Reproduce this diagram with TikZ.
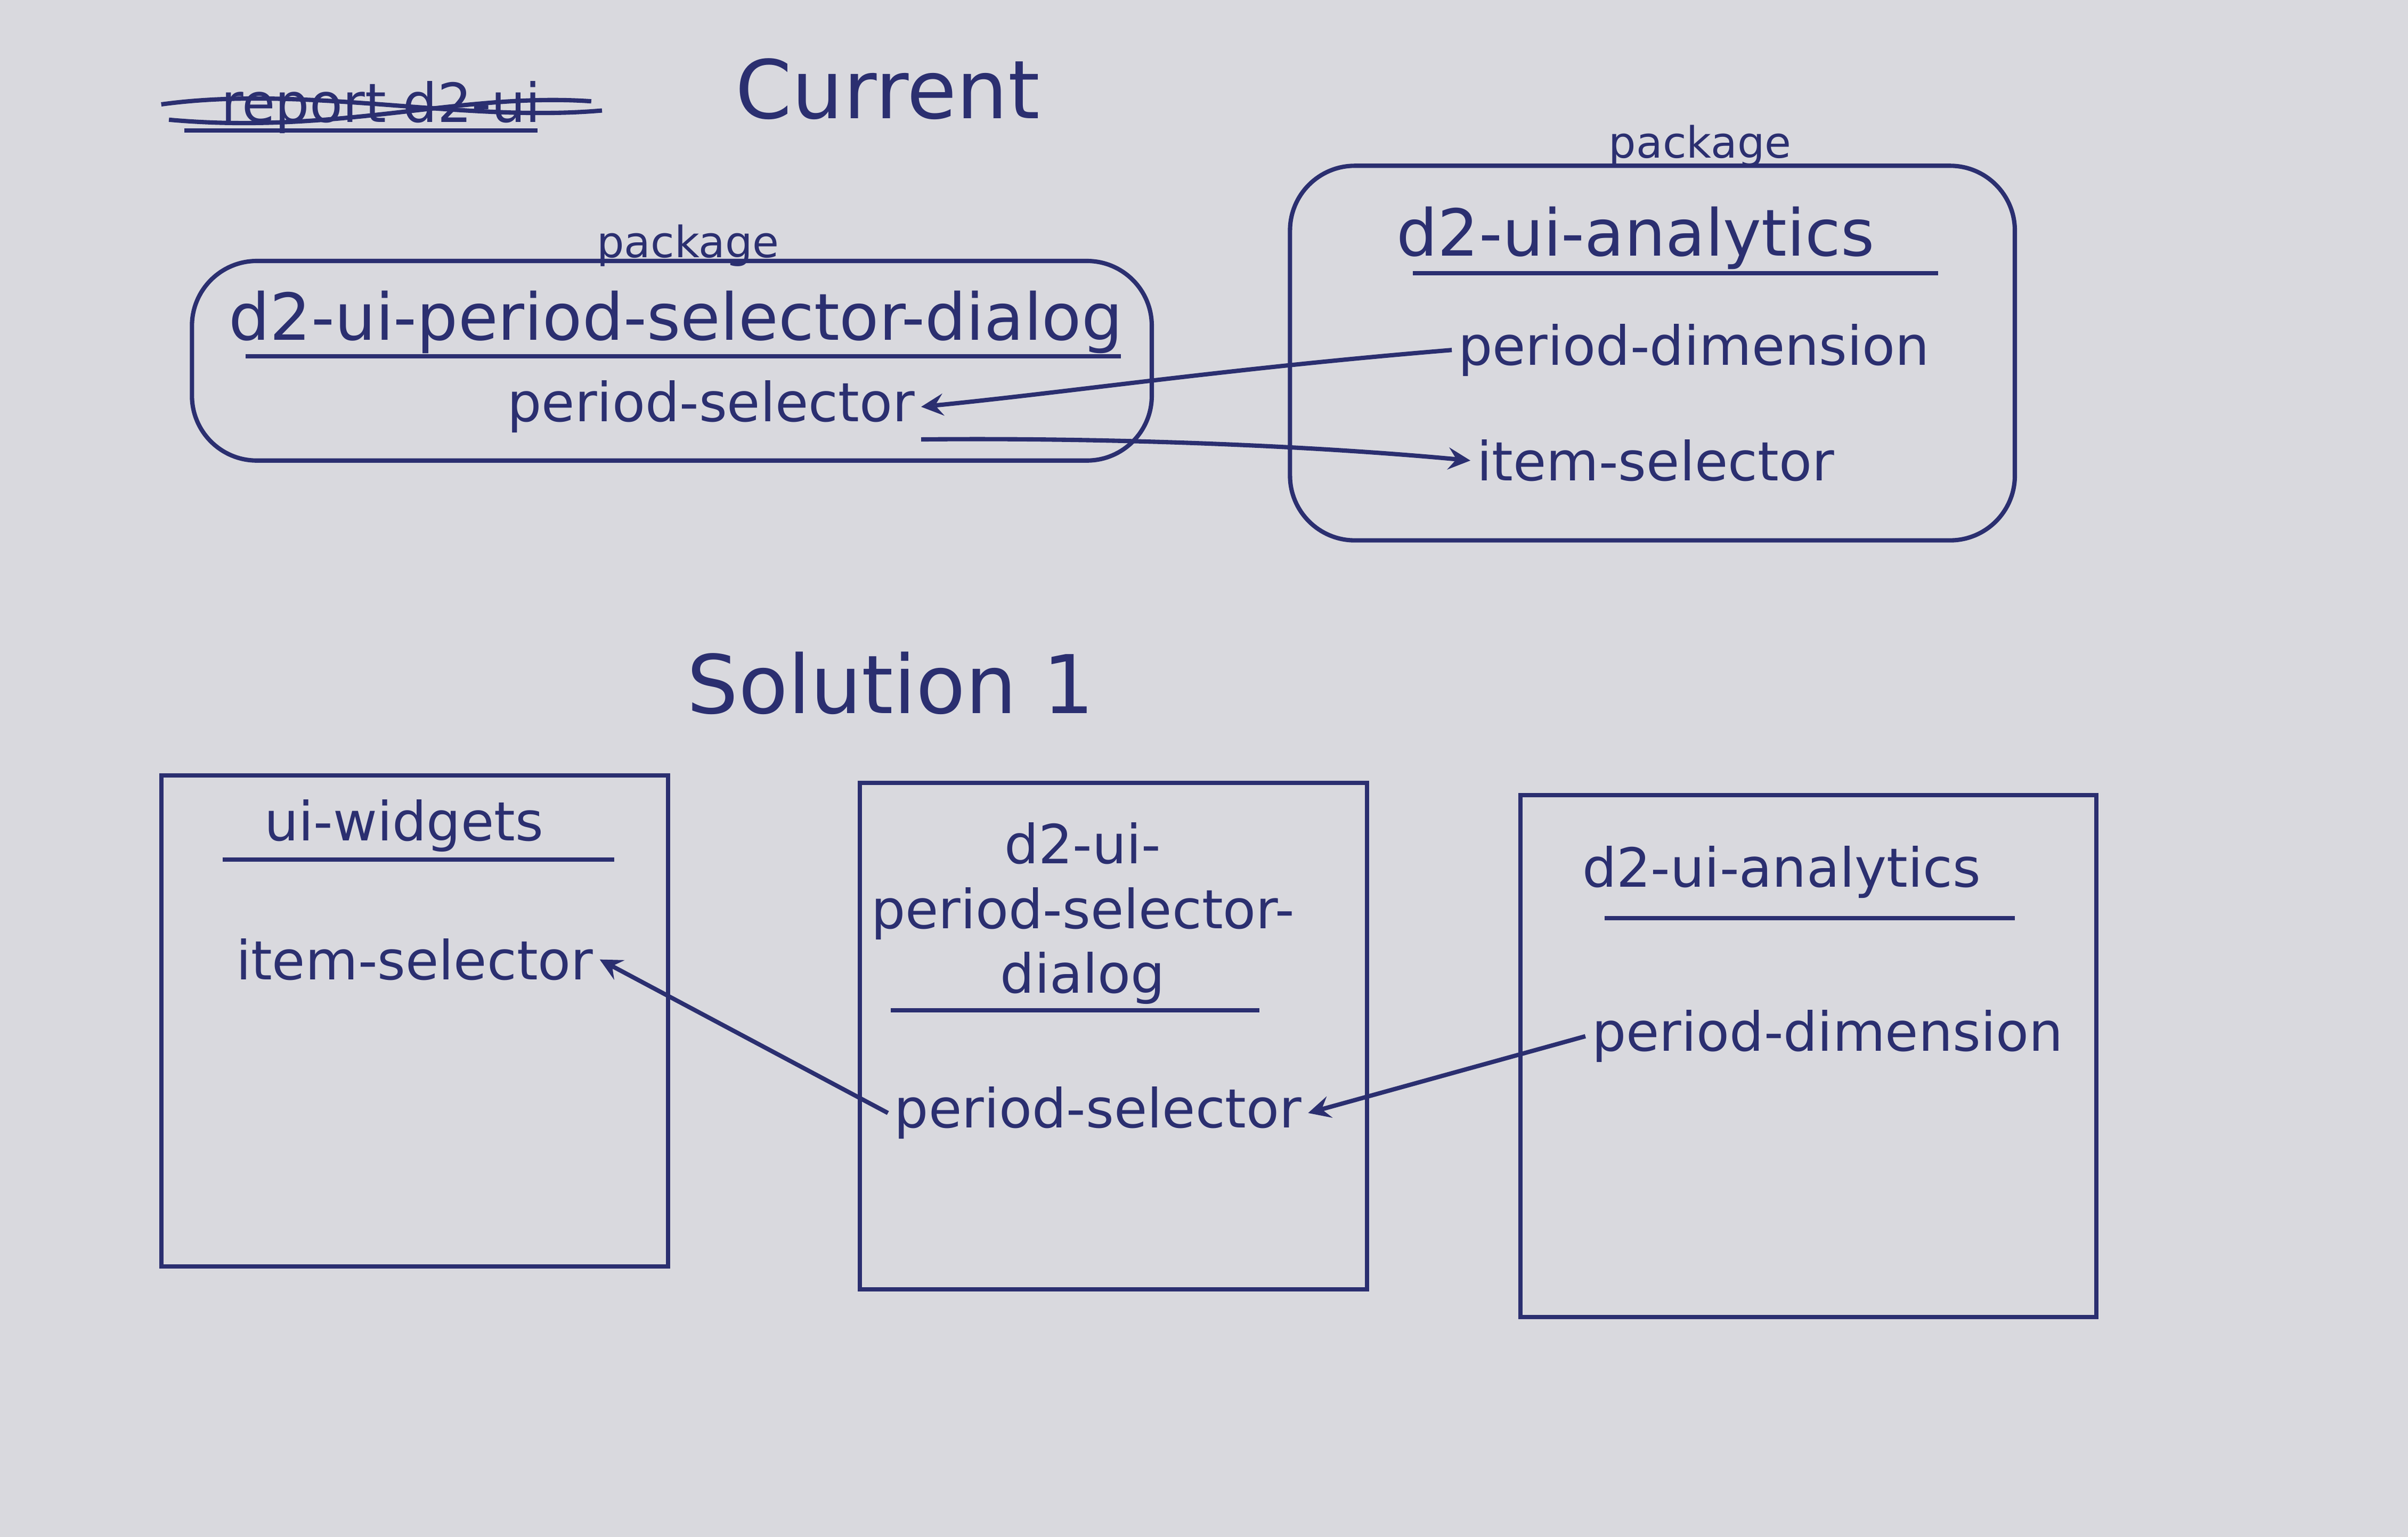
\documentclass[tikz,border=0pt]{standalone}
\usepackage{fontspec}
\setmainfont{DejaVu Sans}
\begin{document}
\begin{tikzpicture}[x=0.01cm,y=-0.01cm,
  ink/.style={draw=inkc,line width=0.8pt},
  box/.style={ink,rounded corners=12pt},
  txt/.style={text=inkc,font=\fontsize{10}{12}\selectfont,inner sep=1pt},
  mid/.style={text=inkc,font=\fontsize{12}{14}\selectfont,inner sep=1pt},
  small/.style={text=inkc,font=\fontsize{8}{10}\selectfont,inner sep=1pt},
  big/.style={text=inkc,font=\fontsize{15}{18}\selectfont},
  arr/.style={ink,->,>=stealth}]
\definecolor{inkc}{HTML}{2B2F70}
\definecolor{paper}{HTML}{D9D9DE}
\fill[paper] (0,0) rectangle (1568,1001);
\useasboundingbox (0,0) rectangle (1568,1001);
% crossed-out text
\node[txt] (xout) at (248,70) {report d2-ui};
\draw[ink] (105,68) .. controls (200,55) and (300,80) .. (392,72);
\draw[ink] (110,78) .. controls (220,88) and (300,60) .. (385,66);
\draw[ink] (120,85) -- (350,85);
\node[big] (cur) at (578,58) {Current};
% top left
\draw[box] (125,170) rectangle (750,300);
\node[small] (pk1) at (448,160) {package};
\node[mid] (d2psd) at (440,210) {d2-ui-period-selector-dialog};
\draw[ink] (160,232) -- (730,232);
\node[txt] (ps1) at (463,265) {period-selector};
% top right
\draw[box] (840,108) rectangle (1312,352);
\node[small] (pk2) at (1107,95) {package};
\node[mid] (ana1) at (1065,155) {d2-ui-analytics};
\draw[ink] (920,178) -- (1262,178);
\node[txt] (pd1) at (1103,228) {period-dimension};
\node[txt] (is1) at (1078,300) {item-selector};
\draw[arr] (pd1.west) .. controls (800,240) and (700,255) .. (ps1.east);
\draw[arr] (ps1.south east) .. controls (720,285) and (850,290) .. (is1.west);
% solution
\node[big] (sol) at (580,445) {Solution 1};
\draw[ink] (105,505) rectangle (435,825);
\node[txt] (uiw) at (263,538) {ui-widgets};
\draw[ink] (145,560) -- (400,560);
\node[txt] (is2) at (270,625) {item-selector};
\draw[ink] (560,510) rectangle (890,840);
\node[txt,align=center] (d2b) at (705,595) {d2-ui-\\period-selector-\\dialog};
\draw[ink] (580,658) -- (820,658);
\node[txt] (ps2) at (715,725) {period-selector};
\draw[ink] (990,518) rectangle (1365,858);
\node[txt] (ana2) at (1160,568) {d2-ui-analytics};
\draw[ink] (1045,598) -- (1312,598);
\node[txt] (pd2) at (1190,675) {period-dimension};
\draw[arr] (ps2.west) -- (is2.east);
\draw[arr] (pd2.west) -- (ps2.east);
\end{tikzpicture}
\end{document}
